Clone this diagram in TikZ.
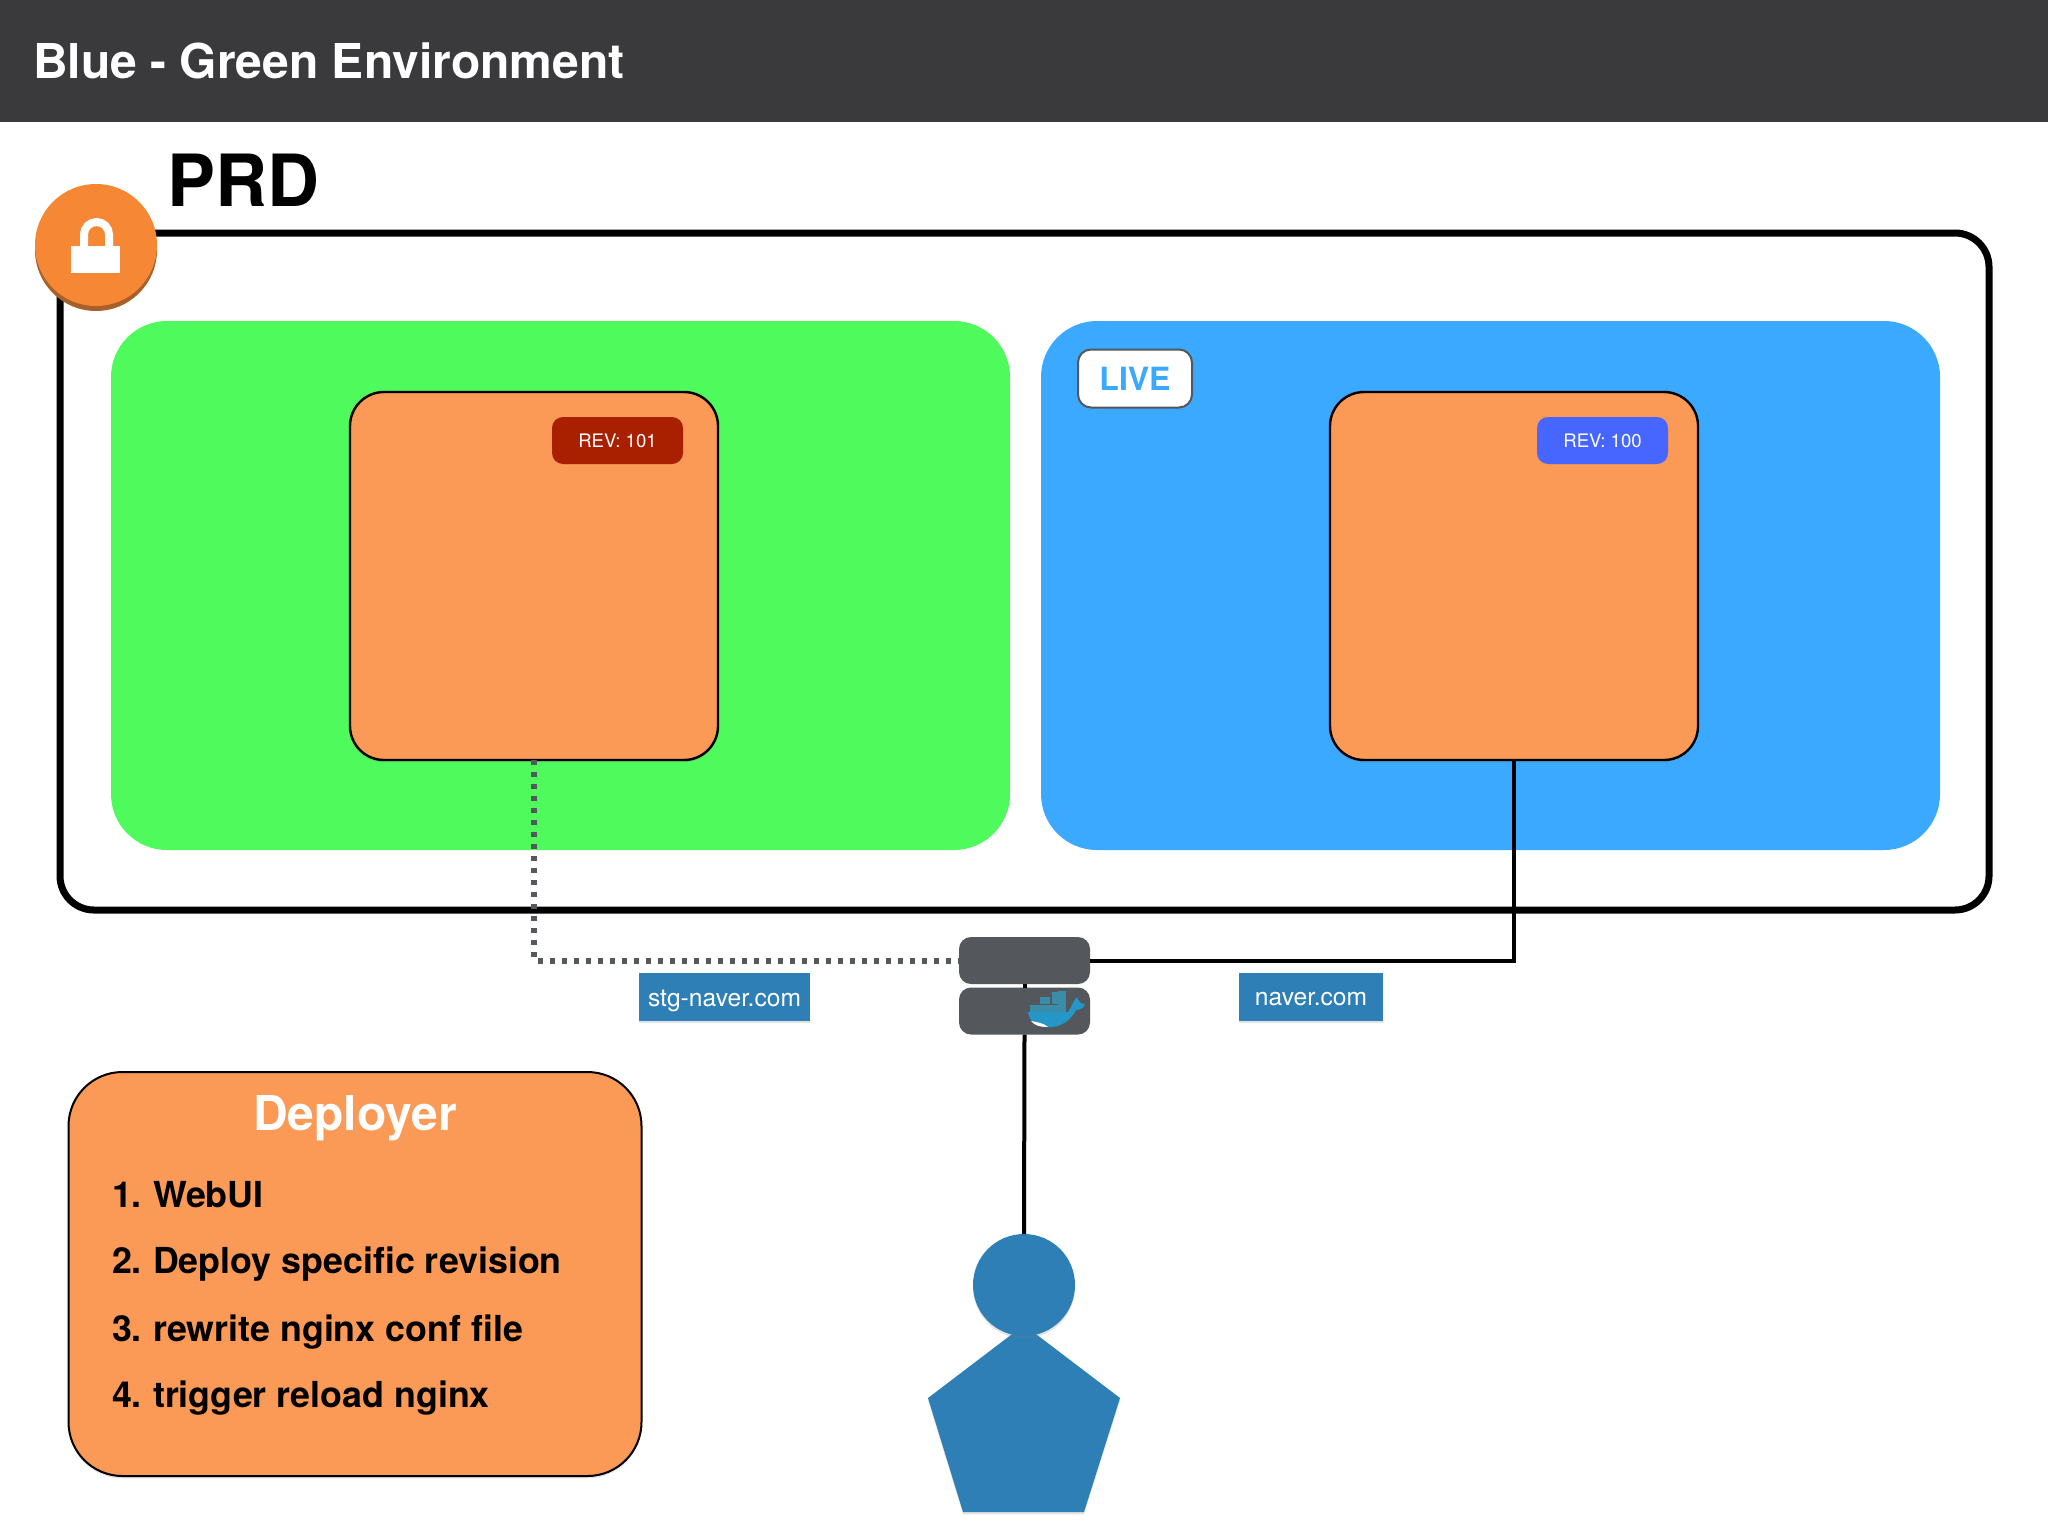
\documentclass[tikz,border=0pt]{standalone}
\usepackage{fontspec}
\setmainfont{TeX Gyre Heros}
\usetikzlibrary{shadows}
\definecolor{headbg}{HTML}{3A3A3C}
\definecolor{greenzone}{HTML}{4EFA5C}
\definecolor{bluezone}{HTML}{3BA9FF}
\definecolor{appfill}{HTML}{FB9A56}
\definecolor{revred}{HTML}{A92000}
\definecolor{revblue}{HTML}{4666FF}
\definecolor{srv}{HTML}{54575C}
\definecolor{steel}{HTML}{2E7FB6}
\definecolor{lockor}{HTML}{F58735}
\definecolor{lockdk}{HTML}{A8602A}
\definecolor{whale}{HTML}{2496C8}
\definecolor{crate}{HTML}{3A8DA8}
\tikzset{
  x=0.5pt,y=-0.5pt,
  softshadow/.style={drop shadow={opacity=0.22,shadow xshift=0pt,shadow yshift=-1.2pt}},
  plain/.style={inner sep=0pt,outer sep=0pt,rectangle},
  zone/.style={plain,minimum width=449.5pt,minimum height=264.5pt,rounded corners=28pt},
  appbox/.style={plain,draw=black,line width=1.2pt,fill=appfill,minimum width=184pt,minimum height=184pt,rounded corners=17pt,softshadow},
  revtag/.style={plain,minimum width=65.5pt,minimum height=23.5pt,rounded corners=5.5pt,text=white,font=\fontsize{9.3}{11}\selectfont},
  srvbox/.style={plain,fill=srv,minimum width=65.5pt,minimum height=23.5pt,rounded corners=6pt},
  urltag/.style={plain,fill=steel,minimum height=24pt,text=white,font=\fontsize{12.3}{14}\selectfont,softshadow},
  link/.style={black,line width=2pt},
  dotlink/.style={srv,line width=3pt,dash pattern=on 2.6pt off 3.4pt},
  item/.style={plain,anchor=base west,font=\bfseries\fontsize{17.9}{20}\selectfont,text=black},
  person/.style={fill=steel,draw=none,softshadow},
}
\begin{document}
\begin{tikzpicture}
\useasboundingbox (0,0) rectangle (2048,1536);
\fill[white] (0,0) rectangle (2048,1536);
% header
\node[plain,fill=headbg,minimum width=1024pt,minimum height=61pt,anchor=north west] (header) at (0,0) {};
\node[plain,anchor=base west,text=white,font=\bfseries\fontsize{24}{28}\selectfont] (title) at (33,79) {Blue - Green Environment};
% frame
\node[plain,draw=black,line width=3.5pt,minimum width=964.5pt,minimum height=338.5pt,rounded corners=17pt] (frame) at (1024.5,571.5) {};
\node[plain,anchor=base west,text=black,font=\bfseries\fontsize{36}{40}\selectfont] (prd) at (167,206) {PRD};
% zones
\node[zone,fill=greenzone] (green) at (560.5,585.5) {};
\node[zone,fill=bluezone] (blue) at (1490.5,585.5) {};
% apps
\node[appbox] (appL) at (534,576) {};
\node[appbox] (appR) at (1514,576) {};
\node[revtag,fill=revred] (revL) at (617.5,440.5) {\raisebox{-0.5pt}{REV: 101}};
\node[revtag,fill=revblue] (revR) at (1602.5,440.5) {\raisebox{-0.5pt}{REV: 100}};
\node[plain,fill=white,draw=srv,line width=1pt,minimum width=57pt,minimum height=29pt,rounded corners=6.5pt,text=bluezone,font=\bfseries\fontsize{16}{18}\selectfont] (live) at (1135,378.5) {LIVE};
% lock badge
\node[plain,circle,fill=lockdk,minimum size=61pt] (lockbase) at (96,250) {};
\node[plain,circle,fill=lockor,minimum size=61pt] (lock) at (96,245) {};
\fill[white] (71,246) rectangle (120,273);
\draw[white,line width=4pt] (84,250) -- (84,234.5) .. controls (84,227.6) and (89.6,222) .. (96.5,222) .. controls (103.4,222) and (109,227.6) .. (109,234.5) -- (109,250);
% servers
\node[srvbox] (srvA) at (1024.5,960.5) {};
\node[srvbox] (srvB) at (1024.5,1011) {};
% person
\path[person] (1024,1325) -- (1120,1398) -- (1084,1512) -- (963,1512) -- (928,1398) -- cycle;
\node[plain,circle,person,minimum size=51pt] (head) at (1024,1285) {};
% connectors
\draw[dotlink] (appL.south) |- (srvA.west);
\draw[link] (srvA.east) -| (appR.south);
\draw[link] (srvA.south) -- (srvB.north);
\draw[link] (srvB.south) -- (head.north);
% whale
\fill[crate] (1040,997) rectangle (1050,1004);
\fill[crate] (1052,997) rectangle (1062,1004);
\fill[crate] (1052,992) rectangle (1058,997);
\fill[crate] (1058,991) rectangle (1066,1012);
\fill[crate] (1030,1005) rectangle (1066,1012);
\fill[whale] (1028,1012) .. controls (1030,1026) and (1042,1028) .. (1052,1027) .. controls (1064,1026) and (1072,1018) .. (1076,1010) .. controls (1080,1010) and (1085,1007) .. (1085,1004) .. controls (1081,1004) and (1079,1002) .. (1077,997) .. controls (1073,1001) and (1072,1006) .. (1068,1012) -- cycle;
\fill[white] (1031,1021) .. controls (1036,1022) and (1044,1023) .. (1048,1027) .. controls (1041,1027) and (1035,1026) .. (1031,1021) -- cycle;
% url tags
\node[urltag,minimum width=85.5pt,text depth=0pt] (stg) at (724.5,997) {\raisebox{-1.5pt}{stg-naver.com}};
\node[urltag,minimum width=72pt,text depth=0pt] (naver) at (1311,997) {\raisebox{-1.5pt}{naver.com}};
% deployer
\node[plain,draw=black,line width=1pt,fill=appfill,minimum width=286.5pt,minimum height=202pt,rounded corners=27pt,softshadow] (deployer) at (355,1274) {};
\node[plain,text=white,font=\bfseries\fontsize{24}{28}\selectfont] (deptitle) at (355,1118) {Deployer};
\node[item] (i1) at (112,1207) {1.\hspace{-1pt} WebUI};
\node[item] (i2) at (112,1273) {2.\hspace{-1pt} Deploy specific revision};
\node[item] (i3) at (112,1341) {3.\hspace{-1pt} rewrite nginx conf file};
\node[item] (i4) at (112,1407) {4.\hspace{-1pt} trigger reload nginx};
\end{tikzpicture}
\end{document}
